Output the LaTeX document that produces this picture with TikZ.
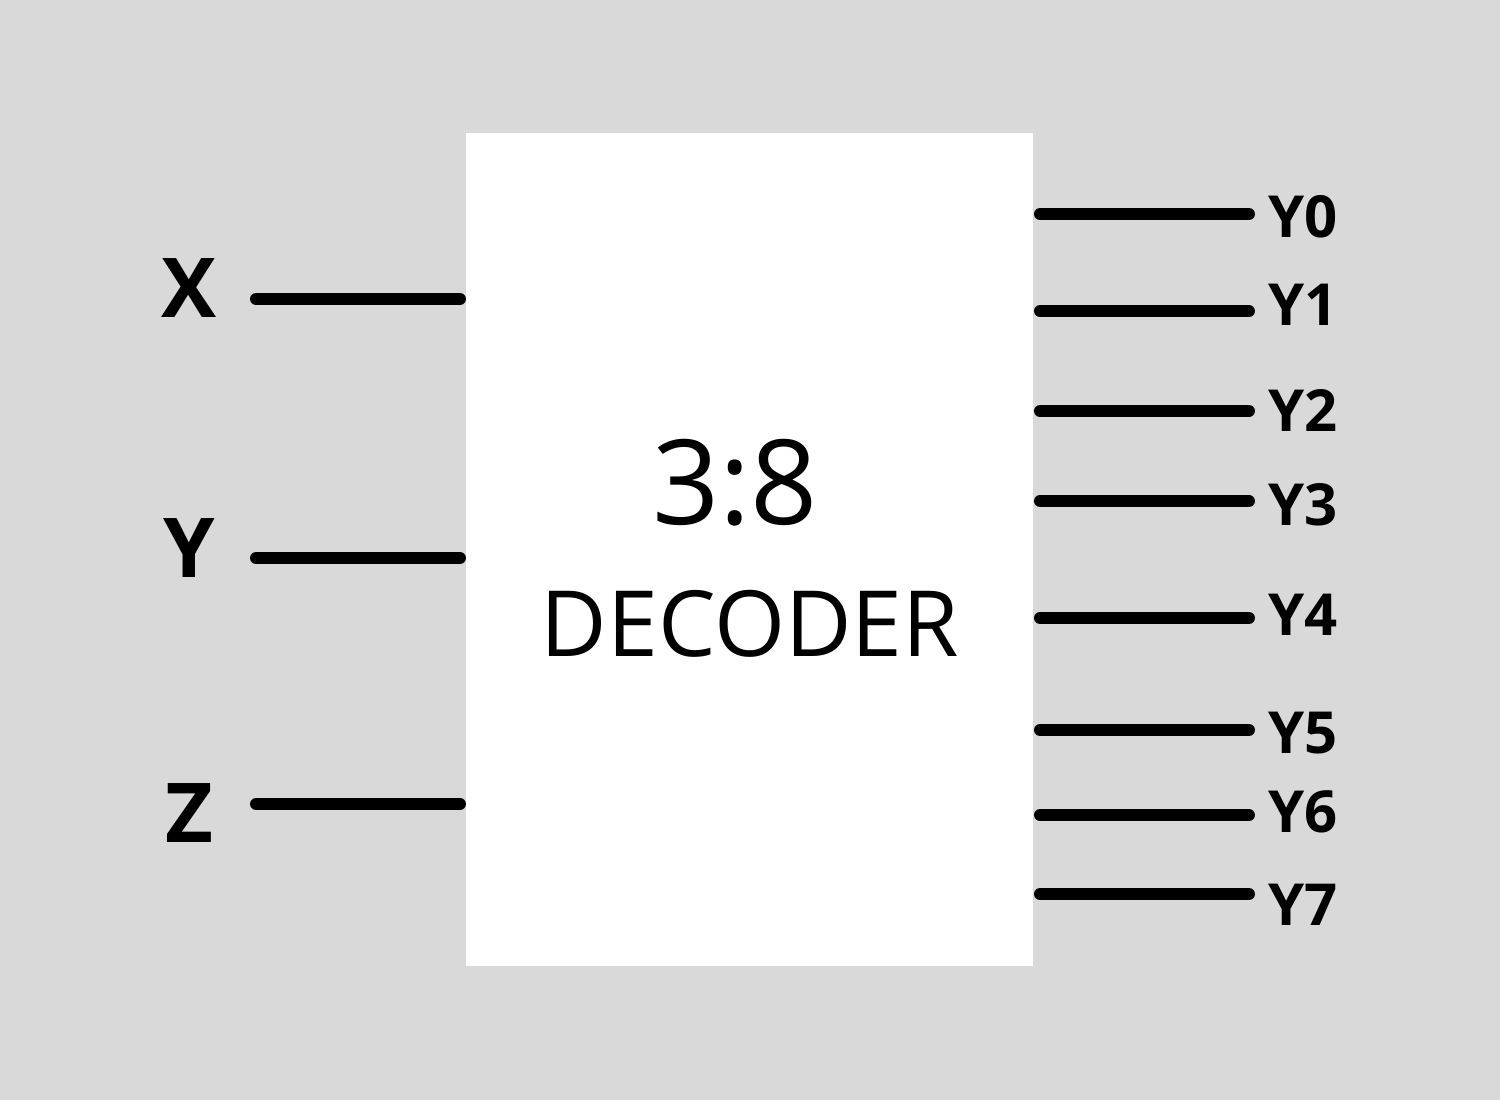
\documentclass[tikz,border=0pt]{standalone}
\usepackage{fontspec}
\setmainfont{Open Sans}
\usetikzlibrary{positioning}
\def\wirewd{6.8pt}

\begin{document}
\begin{tikzpicture}[
    x=0.02cm, y=-0.02cm,
    wire/.style={line width=\wirewd, line cap=round},
    inlabel/.style={font=\fontsize{47}{50}\selectfont\bfseries},
    outlabel/.style={font=\fontsize{33}{36}\selectfont\bfseries}
  ]
    \fill[gray!30] (0,0) rectangle (1500,1100);
    \node[fill=white, minimum width=567*0.02cm, minimum height=833*0.02cm,
          inner sep=0, anchor=north west] (box) at (466,133) {};
    \node[font=\fontsize{67}{70}\selectfont] (ratio) at (735,483) {3:8};
    \node[font=\fontsize{52}{56}\selectfont] (name) at (750,624) {DECODER};

    % inputs
    \foreach \lbl / \y / \ly in {X/299/288, Y/558/548, Z/804/813} {
      \node[inlabel] (in\lbl) at (189,\ly) {\lbl};
      \coordinate (a\lbl) at (256,\y);
      \coordinate (b\lbl) at (460,\y);
      \draw[wire] (a\lbl) -- (b\lbl);
    }

    % outputs
    \foreach \i / \y / \ly in {0/214/217, 1/311/305, 2/411/410, 3/501/505,
                              4/618/615, 5/730/733, 6/815/812, 7/894/905} {
      \coordinate (c\i) at (1040,\y);
      \coordinate (d\i) at (1249,\y);
      \draw[wire] (c\i) -- (d\i);
      \node[outlabel] (out\i) at (1303,\ly) {Y\i};
    }
  \end{tikzpicture}
\end{document}
